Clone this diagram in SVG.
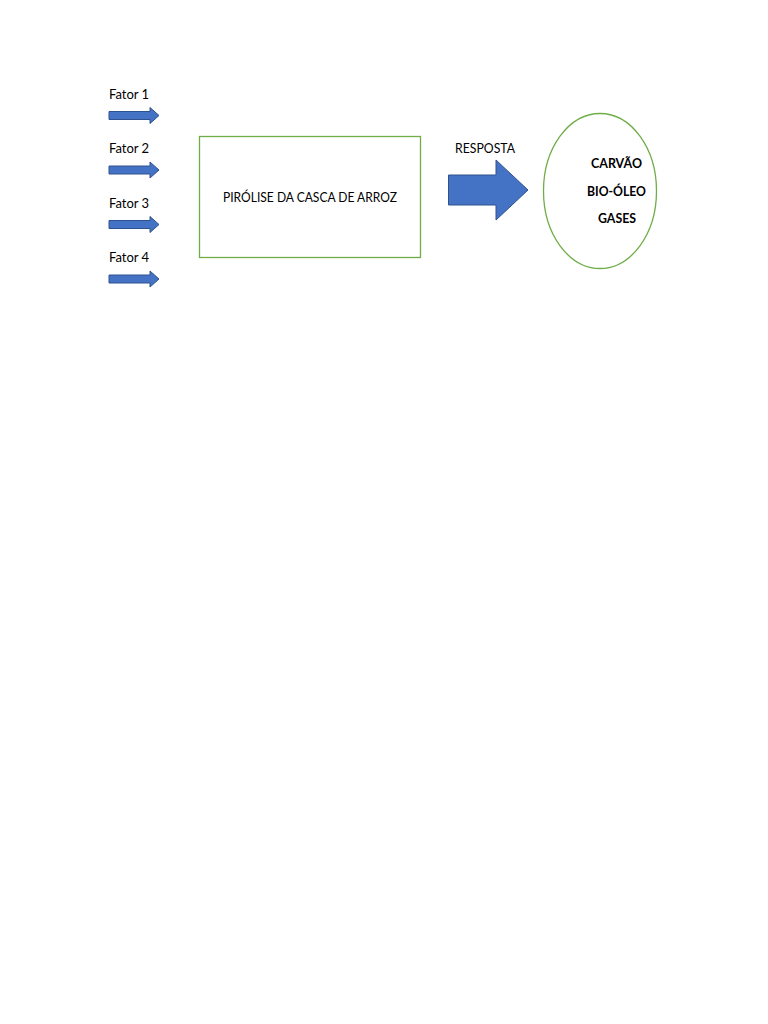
<svg xmlns="http://www.w3.org/2000/svg" width="768" height="1024" viewBox="0 0 768 1024">
<style>
text{font-family:Lato,"Open Sans","Liberation Sans",sans-serif;font-size:13px;fill:#000}
.b{font-weight:bold}
.arr{fill:#4472C4;stroke:#2F528F;stroke-width:1}
.g{fill:#fff;stroke:#70AD47;stroke-width:1.3}
</style>
<rect width="768" height="1024" fill="#fff"/>
<g id="connectors">
<path class="arr" d="M109,111.5H150V107.5L159,115.5L150,123.5V119.5H109Z"/>
<path class="arr" d="M109,166H150V162L159,170L150,178V174H109Z"/>
<path class="arr" d="M109,220.5H150V216.5L159,224.5L150,232.5V228.5H109Z"/>
<path class="arr" d="M109,275H150V271L159,279L150,287V283H109Z"/>
<path class="arr" d="M448.5,175H496V160L528,190L496,220V205H448.5Z"/>
</g>
<g id="fator1"><text x="109" y="99">Fator 1</text></g>
<g id="fator2"><text x="109" y="153">Fator 2</text></g>
<g id="fator3"><text x="109" y="208">Fator 3</text></g>
<g id="fator4"><text x="109" y="262">Fator 4</text></g>
<g id="processo">
<rect class="g" x="199.5" y="136.5" width="221" height="121"/>
<text x="223" y="202" textLength="174" lengthAdjust="spacingAndGlyphs">PIRÓLISE DA CASCA DE ARROZ</text>
</g>
<g id="resposta"><text x="455" y="153" textLength="60" lengthAdjust="spacingAndGlyphs">RESPOSTA</text></g>
<g id="produtos">
<ellipse class="g" cx="600" cy="191" rx="56.5" ry="77.5"/>
<text class="b" x="591" y="168" textLength="51" lengthAdjust="spacingAndGlyphs">CARVÃO</text>
<text class="b" x="587" y="196" textLength="59" lengthAdjust="spacingAndGlyphs">BIO-ÓLEO</text>
<text class="b" x="598" y="223" textLength="38" lengthAdjust="spacingAndGlyphs">GASES</text>
</g>
</svg>
